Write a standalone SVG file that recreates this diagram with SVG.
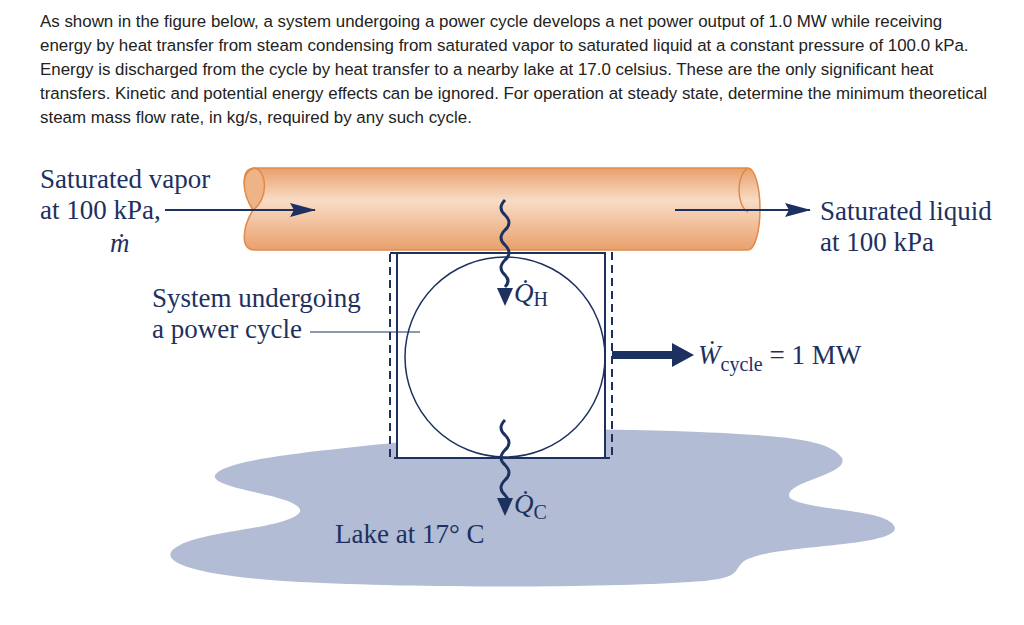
<svg xmlns="http://www.w3.org/2000/svg" width="1024" height="625" viewBox="0 0 1024 625">
<defs>
<style>
.q{font-family:"Liberation Sans",Arial,sans-serif;font-size:16.9px;fill:#222}
.t{font-family:"Liberation Serif","Times New Roman",serif;font-size:27px;fill:#1d3160}
.ln{stroke:#1d3160;fill:none}
</style>
<linearGradient id="pipe" x1="0" y1="0" x2="0" y2="1">
<stop offset="0" stop-color="#e9a06b"/><stop offset="0.4" stop-color="#f8dcc6"/><stop offset="1" stop-color="#e9a06b"/>
</linearGradient>
<marker id="ah" markerWidth="26" markerHeight="14" refX="25" refY="7" orient="auto" markerUnits="userSpaceOnUse">
<path d="M0,0 L26,7 L0,14 L4,7 z" fill="#1d3160"/></marker>
</defs>
<rect width="1024" height="625" fill="#fff"/>
<g id="question" class="q">
<text x="40" y="27">As shown in the figure below, a system undergoing a power cycle develops a net power output of 1.0 MW while receiving</text>
<text x="40" y="51">energy by heat transfer from steam condensing from saturated vapor to saturated liquid at a constant pressure of 100.0 kPa.</text>
<text x="40" y="75">Energy is discharged from the cycle by heat transfer to a nearby lake at 17.0 celsius. These are the only significant heat</text>
<text x="40" y="99">transfers. Kinetic and potential energy effects can be ignored. For operation at steady state, determine the minimum theoretical</text>
<text x="40" y="123">steam mass flow rate, in kg/s, required by any such cycle.</text>
</g>
<g id="lake">
<path d="M420,440 C500,428 600,428 700,432 C790,436 830,440 842,458 C850,475 780,482 790,498 C810,512 890,508 895,528 C895,545 800,545 760,555 C720,565 760,578 690,582 C600,588 420,588 300,582 C190,576 150,560 180,545 C210,530 290,528 300,512 C305,495 210,490 215,475 C225,458 330,450 420,440 z" fill="#b2bcd4"/>
</g>
<g id="pipe">
<path d="M255,168 L748,168 A12,41 0 0 1 748,250 L255,250 C240,250 242,228 253,210 C242,190 240,168 255,168 z" fill="url(#pipe)" stroke="#e08a4c" stroke-width="1.5"/>
<path d="M255,168 C268,172 268,200 253,210 C240,190 242,170 255,168 z" fill="#eeb488" stroke="#e08a4c" stroke-width="1.5"/>
<path d="M748,168 C736,175 736,205 748,212" fill="none" stroke="#e08a4c" stroke-width="1.5"/>
</g>
<g id="system">
<rect x="397" y="253" width="208" height="205" fill="#fff" stroke="#1d3160" stroke-width="2"/>
<rect x="390" y="253" width="222" height="205" class="ln" stroke-width="2" stroke-dasharray="8,5"/>
<circle cx="505" cy="357" r="100" class="ln" stroke-width="1.5"/>
</g>
<g id="connectors">
<line x1="165" y1="210" x2="315" y2="210" class="ln" stroke-width="2" marker-end="url(#ah)"/>
<line x1="675" y1="210" x2="810" y2="210" class="ln" stroke-width="2" marker-end="url(#ah)"/>
<path d="M505,200 q-8,8 0,15 q8,8 0,15 q-8,8 0,15 q8,8 0,15 q-8,8 0,15 q6,6 0,12" class="ln" stroke-width="3"/>
<path d="M497,288 L513,288 L505,306 z" fill="#1d3160"/>
<path d="M505,420 q-8,8 0,15 q8,8 0,15 q-8,8 0,15 q8,8 0,15 q-8,8 0,15 q6,6 0,12" class="ln" stroke-width="3"/>
<path d="M497,498 L513,498 L505,516 z" fill="#1d3160"/>
<line x1="612" y1="355" x2="675" y2="355" stroke="#1d3160" stroke-width="8"/>
<path d="M672,343 L694,355 L672,367 z" fill="#1d3160"/>
<line x1="310" y1="332" x2="420" y2="332" class="ln" stroke-width="1"/>
</g>
<g id="labels" class="t">
<text x="40" y="188">Saturated vapor</text>
<text x="40" y="219">at 100 kPa,</text>
<text x="110" y="252" font-style="italic">ṁ</text>
<text x="820" y="220">Saturated liquid</text>
<text x="820" y="251">at 100 kPa</text>
<text x="152" y="307">System undergoing</text>
<text x="152" y="338">a power cycle</text>
<text x="514" y="302"><tspan font-style="italic">Q̇</tspan><tspan font-size="20" dy="4">H</tspan></text>
<text x="514" y="513"><tspan font-style="italic">Q̇</tspan><tspan font-size="20" dy="6">C</tspan></text>
<text x="698" y="364"><tspan font-style="italic">Ẇ</tspan><tspan font-size="20" dy="7">cycle</tspan><tspan dy="-7"> = 1 MW</tspan></text>
<text x="335" y="543">Lake at 17° C</text>
</g>
</svg>
